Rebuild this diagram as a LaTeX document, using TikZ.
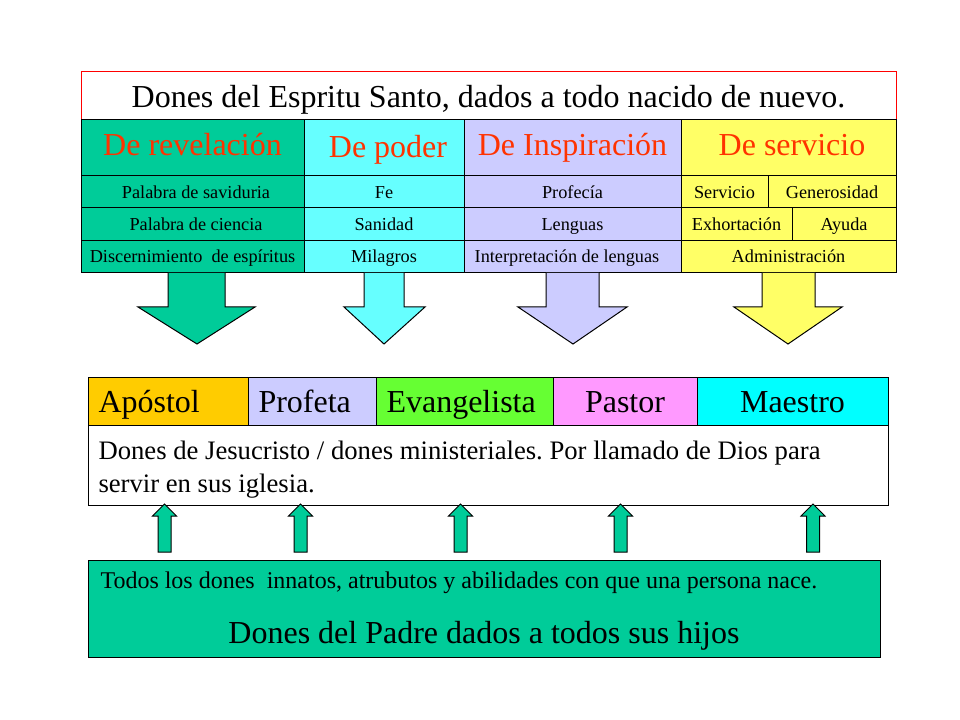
\documentclass[tikz,border=0pt]{standalone}
\usepackage{fontspec}
\setmainfont{Liberation Serif}
\frenchspacing
\definecolor{cgreen}{HTML}{00CC99}
\definecolor{ccyan}{HTML}{66FFFF}
\definecolor{clav}{HTML}{CCCCFF}
\definecolor{cyel}{HTML}{FFFF66}
\definecolor{chead}{HTML}{FF3300}
\definecolor{capo}{HTML}{FFCC00}
\definecolor{cevan}{HTML}{66FF33}
\definecolor{cpast}{HTML}{FF99FF}
\definecolor{cmae}{HTML}{00FFFF}
\begin{document}
\begin{tikzpicture}[x=0.75pt,y=-0.75pt,line width=0.75pt,
  cellbox/.style={draw=black},
  titletxt/.style={font=\fontsize{24}{28}\selectfont,inner sep=0pt,anchor=base},
  headtxt/.style={text=chead,font=\fontsize{24}{28}\selectfont,inner sep=0pt,anchor=base},
  celltxt/.style={font=\fontsize{13.7}{16}\selectfont,inner sep=0pt,anchor=base},
  mintxt/.style={font=\fontsize{24}{28}\selectfont,inner sep=0pt,anchor=base},
  bodytxt/.style={font=\fontsize{20}{24.5}\selectfont,inner sep=0pt,anchor=base west,align=left},
  smalltxt/.style={font=\fontsize{18}{21}\selectfont,inner sep=0pt,anchor=base west},
  blockarrow/.style={draw=black,line width=0.75pt,line join=miter}]
\useasboundingbox[fill=white] (0,0) rectangle (960,720);

% title
\draw[draw=red,fill=white] (81,72) rectangle (896,120);
\node[titletxt] (title) at (488.5,108) {Dones del Espritu Santo, dados a todo nacido de nuevo.};

% column fills
\fill[cgreen] (81,120) rectangle (304,273);
\fill[ccyan] (304,120) rectangle (464,273);
\fill[clav] (464,120) rectangle (681,273);
\fill[cyel] (681,120) rectangle (896,273);
% grid
\draw (81,120) rectangle (896,273);
\draw (304,120) -- (304,273);
\draw (464,120) -- (464,273);
\draw (681,120) -- (681,273);
\draw (81,176) -- (896,176);
\draw (81,208) -- (896,208);
\draw (81,241) -- (896,241);
\draw (768,176) -- (768,208);
\draw (792,208) -- (792,241);

% headers
\node[headtxt] (h1) at (192.5,155.7) {De revelación};
\node[headtxt] (h2) at (388,157.3) {De poder};
\node[headtxt] (h3) at (572.5,155.7) {De Inspiración};
\node[headtxt] (h4) at (792,155.7) {De servicio};

% rows
\node[celltxt] (r11) at (196,198.3) {Palabra de saviduria};
\node[celltxt] (r12) at (196,230.3) {Palabra de ciencia};
\node[celltxt] (r13) at (192.5,262.7) {Discernimiento \ de espíritus};
\node[celltxt] (r21) at (384,198.3) {Fe};
\node[celltxt] (r22) at (384,230.3) {Sanidad};
\node[celltxt] (r23) at (384,262.7) {Milagros};
\node[celltxt] (r31) at (572.5,198.3) {Profecía};
\node[celltxt] (r32) at (572.5,230.3) {Lenguas};
\node[celltxt] (r33) at (567,262.7) {Interpretación de lenguas};
\node[celltxt] (r41) at (724.5,198.3) {Servicio};
\node[celltxt] (r42) at (832,198.3) {Generosidad};
\node[celltxt] (r43) at (736.5,230.3) {Exhortación};
\node[celltxt] (r44) at (844,230.3) {Ayuda};
\node[celltxt] (r45) at (788.5,262.7) {Administración};

% down block arrows
\filldraw[blockarrow,fill=cgreen] (168,273) -- (168,307) -- (138,307) -- (197,344) -- (255,307) -- (225,307) -- (225,273);
\filldraw[blockarrow,fill=ccyan] (364,273) -- (364,307) -- (344,307) -- (384,344) -- (425,307) -- (404,307) -- (404,273);
\filldraw[blockarrow,fill=clav] (546,273) -- (546,307) -- (518,307) -- (573,344) -- (627,307) -- (599,307) -- (599,273);
\filldraw[blockarrow,fill=cyel] (762,273) -- (762,307) -- (734,307) -- (788,344) -- (842,307) -- (815,307) -- (815,273);

% middle box
\draw[fill=white] (88,377) rectangle (888,505);
\fill[capo] (88,377) rectangle (248,425);
\fill[clav] (248,377) rectangle (376,425);
\fill[cevan] (376,377) rectangle (553,425);
\fill[cpast] (553,377) rectangle (697,425);
\fill[cmae] (697,377) rectangle (888,425);
\draw (88,377) rectangle (888,505);
\draw (88,425) -- (888,425);
\draw (248,377) -- (248,425);
\draw (376,377) -- (376,425);
\draw (553,377) -- (553,425);
\draw (697,377) -- (697,425);
\node[mintxt,anchor=base west] (m1) at (98,412.7) {Apóstol};
\node[mintxt,anchor=base west] (m2) at (258,412.7) {Profeta};
\node[mintxt,anchor=base west] (m3) at (386,412.7) {Evangelista};
\node[mintxt] (m4) at (625,412.7) {Pastor};
\node[mintxt] (m5) at (792.5,412.7) {Maestro};
\node[bodytxt] (mtext) at (98,492) {Dones de Jesucristo / dones ministeriales. Por llamado de Dios para\\servir en sus iglesia.};

% up block arrows
\foreach \cx/\nm in {164.5/u1,300.5/u2,460.5/u3,620.5/u4,813/u5}{
  \filldraw[blockarrow,fill=cgreen] (\cx-6.5,552) -- (\cx-6.5,516) -- (\cx-12,516) -- (\cx,504) -- (\cx+12,516) -- (\cx+6.5,516) -- (\cx+6.5,552) -- cycle;
}

% bottom box
\draw[fill=cgreen] (88,560) rectangle (880,657);
\node[smalltxt] (b1) at (100,588.3) {Todos los dones \ innatos, atrubutos y abilidades con que una persona nace.};
\node[mintxt] (b2) at (484,643) {Dones del Padre dados a todos sus hijos};
\end{tikzpicture}
\end{document}
